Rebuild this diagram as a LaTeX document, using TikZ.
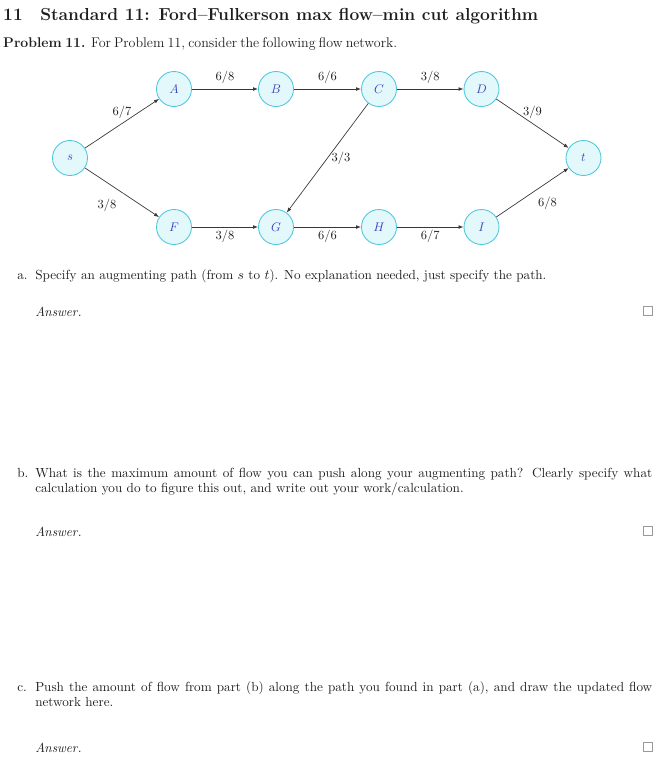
\documentclass[tikz,border=0pt]{standalone}
\usetikzlibrary{arrows.meta}
\definecolor{nodeborder}{RGB}{80,200,220}
\definecolor{nodefill}{RGB}{226,248,251}
\definecolor{nodetext}{RGB}{60,70,190}
\definecolor{edgecol}{RGB}{55,55,55}
\definecolor{txt}{RGB}{30,30,30}
\newcommand{\bodyfont}{\fontsize{10.54}{12.6}\selectfont}
\newcommand{\titlefont}{\fontsize{13.9}{16}\selectfont\bfseries}
\begin{document}
\begin{tikzpicture}[x=0.8pt,y=-0.8pt,
  vert/.style={circle, draw=nodeborder, fill=nodefill, line width=0.7pt,
    minimum size=28pt, inner sep=0pt, text=nodetext, font=\normalsize},
  edge/.style={draw=edgecol, line width=0.55pt, -{Latex[length=4pt,width=3pt]}},
  lbl/.style={font=\normalsize, inner sep=0pt, text=txt, midway},
  line/.style={anchor=base west, inner sep=0pt, text=txt, font=\bodyfont},
  ansbox/.style={draw=gray!80, line width=0.7pt, minimum size=7.5pt, inner sep=0pt}
]
\useasboundingbox (0,0) rectangle (665,781);
% title
\node[line, font=\titlefont] (num) at (3,20) {11};
\node[line, font=\titlefont] (title) at (40,20) {Standard 11: Ford--Fulkerson max flow--min cut algorithm};
\node[line, font=\fontsize{11.2}{13}\selectfont] (prob) at (3,47) {\hbox to 311.2pt{\textbf{Problem 11.} For Problem 11, consider the following flow network.}};
% graph
\node[vert] (s) at (70,158) {$s$};
\node[vert] (A) at (174,89) {$A$};
\node[vert] (B) at (276,89) {$B$};
\node[vert] (C) at (379,89) {$C$};
\node[vert] (D) at (481.5,89) {$D$};
\node[vert] (t) at (583.5,158) {$t$};
\node[vert] (F) at (174,227) {$F$};
\node[vert] (G) at (276,227) {$G$};
\node[vert] (H) at (379,227) {$H$};
\node[vert] (I) at (481.5,227) {$I$};
\draw[edge] (s) -- node[lbl, yshift=9.2pt] {6/7} (A);
\draw[edge] (A) -- node[lbl, yshift=9.6pt] {6/8} (B);
\draw[edge] (B) -- node[lbl, yshift=9.6pt] {6/6} (C);
\draw[edge] (C) -- node[lbl, yshift=9.6pt] {3/8} (D);
\draw[edge] (D) -- node[lbl, yshift=9.2pt] {3/9} (t);
\draw[edge] (C) -- node[lbl, xshift=10.8pt] {3/3} (G);
\draw[edge] (s) -- node[lbl, xshift=-12pt, yshift=-10pt] {3/8} (F);
\draw[edge] (F) -- node[lbl, yshift=-7.8pt] {3/8} (G);
\draw[edge] (G) -- node[lbl, yshift=-7.8pt] {6/6} (H);
\draw[edge] (H) -- node[lbl, yshift=-7.8pt] {6/7} (I);
\draw[edge] (I) -- node[lbl, xshift=12pt, yshift=-8.4pt] {6/8} (t);
% part a
\node[line] (alab) at (17,279) {a.};
\node[line] (atext) at (35,279) {Specify an augmenting path (from $s$ to $t$). No explanation needed, just specify the path.};
\node[line, font=\bodyfont\itshape] (aans) at (35,316) {Answer.};
\node[ansbox] (abox) at (648,311) {};
% part b
\node[line] (blab) at (17,477) {b.};
\node[line] (btext1) at (35,477) {\hbox to 493.6pt{What is the maximum amount of flow you can push along your augmenting path?  Clearly specify what}};
\node[line] (btext2) at (35,492) {calculation you do to figure this out, and write out your work/calculation.};
\node[line, font=\bodyfont\itshape] (bans) at (35,536) {Answer.};
\node[ansbox] (bbox) at (648,531) {};
% part c
\node[line] (clab) at (17,691) {c.};
\node[line] (ctext1) at (35,691) {\hbox to 493.6pt{Push the amount of flow from part (b) along the path you found in part (a), and draw the updated flow}};
\node[line] (ctext2) at (35,706) {network here.};
\node[line, font=\bodyfont\itshape] (cans) at (35,752) {Answer.};
\node[ansbox] (cbox) at (648,747) {};
\end{tikzpicture}
\end{document}
